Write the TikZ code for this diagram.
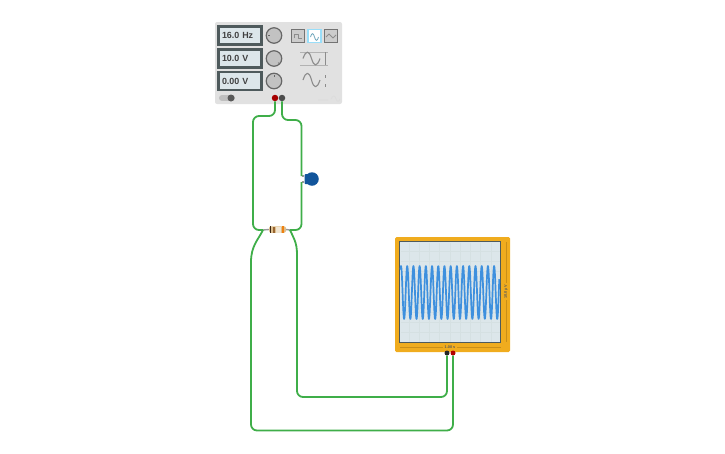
\documentclass[tikz,border=0pt]{standalone}
\usepackage{fontspec}
\setmainfont{Liberation Sans}
\usepackage{tikz}
\usetikzlibrary{positioning}
\usetikzlibrary{calc}
\definecolor{wiregreen}{HTML}{3FAE49}
\definecolor{panelgrey}{HTML}{E1E1E1}
\definecolor{lcdblue}{HTML}{DCE6EA}
\definecolor{lcdline}{HTML}{4E5A5C}
\definecolor{scopeorange}{HTML}{F0AC1E}
\definecolor{ruleorange}{HTML}{C98E18}
\definecolor{traceblue}{HTML}{3E90DE}
\definecolor{capblue}{HTML}{12559B}
\definecolor{tanbody}{HTML}{DDBE8C}
\definecolor{gridgrey}{HTML}{D5E0E2}
\tikzset{
  panel/.style={draw=none, fill=panelgrey, rounded corners=2, minimum width=127, minimum height=82, inner sep=0},
  lcd/.style={draw=lcdline, line width=2.1, fill=lcdblue, minimum width=43, minimum height=18, inner sep=0, text=black!75, font=\bfseries\fontsize{8.9}{9}\selectfont, text width=36, align=left},
  knob/.style={circle, draw=black!60, line width=1.2, fill=black!24, minimum size=15.5, inner sep=0},
  wavebtn/.style={draw=black!55, line width=0.8, fill=black!20, minimum size=13, inner sep=0},
  wavebtnon/.style={draw=cyan!40, line width=1.1, fill=white, minimum size=13, inner sep=0},
  pin/.style={circle, draw=none, minimum size=6.5, inner sep=0},
  wire/.style={draw=wiregreen, line width=1.8, rounded corners=6},
  lead/.style={draw=black!40, line width=1.4},
  tiny/.style={font=\bfseries\fontsize{3.8}{4}\selectfont, text=black!65, inner sep=0},
  iconline/.style={draw=black!45, line width=0.8, line join=round}
}
\begin{document}
\begin{tikzpicture}[x=1pt,y=-1pt]
  \useasboundingbox (0,0) rectangle (725,453);
  % Draw the function generator
  \node[panel] (gen) at (278.5,63) {};
  \node[lcd] (freq) at (240,35.5) {16.0 Hz};
  \node[lcd] (ampl) at (240,58.5) {10.0 V};
  \node[lcd] (offs) at (240,81) {0.00 V};
  \node[knob] (knob1) at (274,35.5) {};
  \node[knob] (knob2) at (274,58.5) {};
  \node[knob] (knob3) at (274,81) {};
  \draw[black!60, line width=0.5] (knob1.center) ++(-6,0) -- ++(1.5,0);
  \draw[black!60, line width=0.5] (knob2.center) ++(4,4) -- ++(1.2,1.2);
  \draw[black!60, line width=0.5] (knob3.center) ++(0,-6) -- ++(0,1.5);
  \node[wavebtn] (square) at (298,36) {};
  \node[wavebtnon] (sine) at (314.5,36) {};
  \node[wavebtn] (tri) at (331,36) {};
  \draw[iconline] ($(square)+(-4,2)$) -- ++(0,-4) -- ++(4,0) -- ++(0,4) -- ++(4,0);
  \draw[cyan!60!black!70, line width=0.8] ($(sine)+(-4,1)$) .. controls ++(1.2,-4.5) and ++(-1.2,-4.5) .. ++(4,0) .. controls ++(1.2,4.5) and ++(-1.2,4.5) .. ++(4,0);
  \draw[iconline] ($(tri)+(-5,1)$) -- ++(3,-3) -- ++(4,4) -- ++(3,-3);
  \draw[iconline, draw=black!30] (300,52) -- (328,52);
  \draw[iconline, draw=black!30] (300,65) -- (328,65);
  \draw[iconline, line width=1.1] (303,58.5) .. controls (306,50) and (309,50) .. (311.5,58.5) .. controls (314,67) and (317,67) .. (320,58.5);
  \draw[iconline] (325.5,52) -- (325.5,65);
  \draw[iconline, line width=1.1] (303,80) .. controls (306,71) and (309,71) .. (311.5,80) .. controls (314,89) and (317,89) .. (320,80);
  \draw[iconline] (325.5,75) -- (325.5,78);
  \draw[iconline] (325.5,84) -- (325.5,87);
  % Draw the switch and the mark
  \draw[black!25, line width=6, line cap=round] (222,98) -- (232,98);
  \node[circle, fill=black!65, minimum size=7, inner sep=0] (switch) at (231,98) {};
  \draw[black!14, line width=0.6] (318,100) -- (328,100) (331,99) .. controls (333,95) and (335,95) .. (336,99) .. controls (337,102) and (339,102) .. (340,99);
  % Draw the oscilloscope
  \node[draw=none, fill=scopeorange, rounded corners=1.5, minimum size=115, inner sep=0] (scope) at (452.5,294.5) {};
  \node[draw=lcdline, line width=1.7, fill=lcdblue, minimum width=101, minimum height=101, inner sep=0] (screen) at (450,292) {};
  \foreach \x in {409,419,429,439,450,460,470,480,491}
    \draw[gridgrey, line width=0.4] (\x,243) -- (\x,342);
  \foreach \y in {251,261,271,281,292,302,312,322,332}
    \draw[gridgrey, line width=0.4] (401,\y) -- (500,\y);
  \draw[traceblue, line width=1.7, line join=round] plot[domain=0:98.8, samples=400, smooth] ({400.5+\x}, {292.5-26.5*sin(58*(\x)+60)});
  \draw[ruleorange, line width=0.7] (400,347) -- (443,347);
  \draw[ruleorange, line width=0.7] (457,347) -- (501,347);
  \draw[ruleorange, line width=0.7] (506,242) -- (506,283);
  \draw[ruleorange, line width=0.7] (506,300) -- (506,342);
  \node[tiny] (timelbl) at (450,347.5) {1.00 s};
  \node[tiny, rotate=90] (voltlbl) at (506,292) {10.0 µV};
  % Draw the parts
  \node[fill=tanbody, minimum width=17, minimum height=6.5, rounded corners=2, inner sep=0] (res) at (277.5,229.5) {};
  \fill[black!70!brown] (269.5,226.3) rectangle (271.2,232.7);
  \fill[brown!80!black] (272.8,226.5) rectangle (274.6,232.5);
  \fill[white!60!tanbody] (276,226.5) rectangle (280.5,232.5);
  \fill[orange!75!brown] (281.5,226.3) rectangle (284,232.7);
  \coordinate (resA) at (263,230);
  \coordinate (resB) at (290,230);
  \draw[lead] (resA) -- (res.west);
  \draw[lead] (resB) -- (res.east);
  \coordinate (capA) at (301.5,176);
  \coordinate (capB) at (301.5,182);
  \node[circle, fill=capblue, minimum size=13.5, inner sep=0] (cap) at (312,179) {};
  \node[fill=capblue, minimum width=6, minimum height=10, inner sep=0, rounded corners=1] (capneck) at (307.5,179) {};
  \draw[lead] (capA) -- ($(capneck.west)+(0,-3)$);
  \draw[lead] (capB) -- ($(capneck.west)+(0,3)$);
  % Draw the wires
  \coordinate (bendL) at (253,116);
  \coordinate (bendR) at (301.5,120);
  \coordinate (sideA) at (251,262);
  \coordinate (sideB) at (297,254);
  \coordinate (lowA) at (251,430.5);
  \coordinate (lowB) at (297,397);
  \node[pin, fill=red!65!black] (genred) at (275,98) {};
  \node[pin, fill=black!70] (gengnd) at (282,98) {};
  \node[pin, fill=black!85, minimum size=5] (scopeblk) at (447,353) {};
  \node[pin, fill=red!70!black, minimum size=5] (scopered) at (453,353) {};
  \draw[wire] (genred.south) |- (bendL) |- (resA);
  \draw[wire] (gengnd.south) |- (bendR) -- (capA);
  \draw[wire] (capB) |- (resB);
  \draw[wire, rounded corners=0] (resA) .. controls (258,240) and (251,246) .. (sideA);
  \draw[wire] (sideA) -- (lowA) -| (scopered.south);
  \draw[wire, rounded corners=0] (resB) .. controls (293,237) and (297,242) .. (sideB);
  \draw[wire] (sideB) -- (lowB) -| (scopeblk.south);
\end{tikzpicture}
\end{document}
